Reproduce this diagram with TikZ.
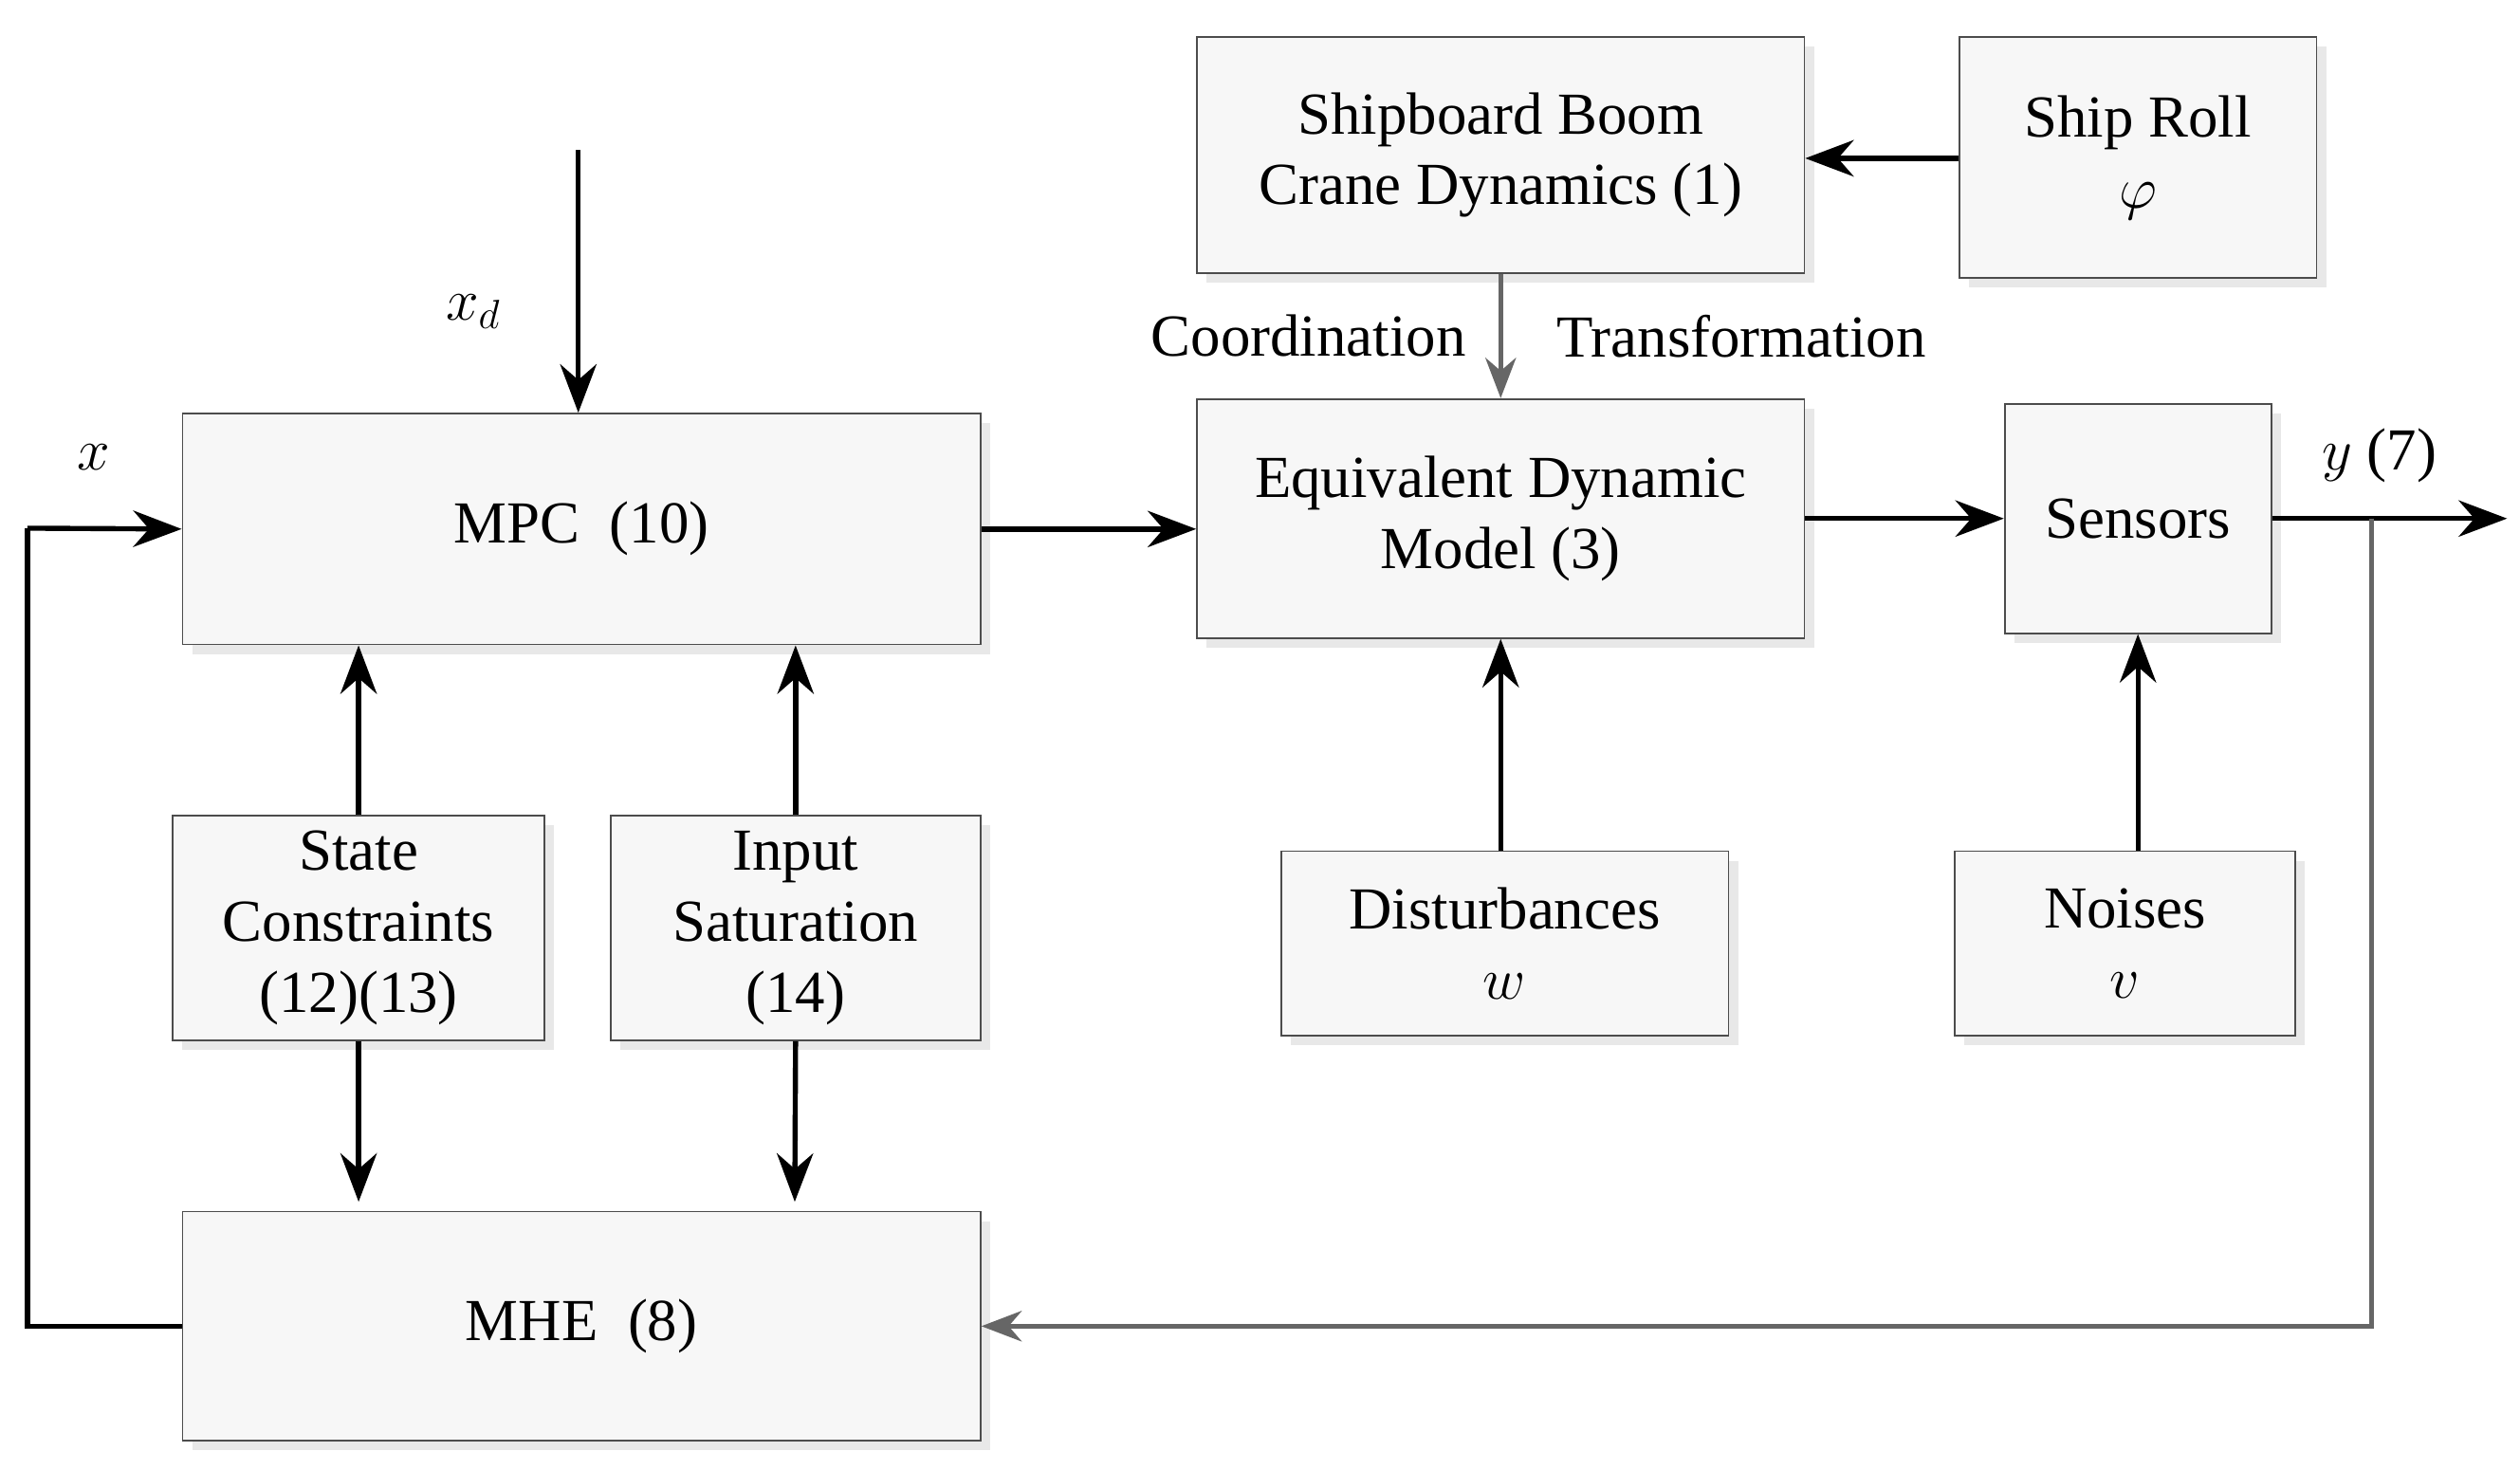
\documentclass[tikz,border=0pt]{standalone}
\usepackage{fontspec}
\setmainfont{Liberation Serif}
\usetikzlibrary{arrows.meta,shadows}
\begin{document}
\begin{tikzpicture}[x=0.02cm,y=-0.02cm,
 blk/.style={draw=black!70,line width=0.6pt,fill=gray!6,drop shadow={shadow xshift=0.12cm,shadow yshift=-0.12cm,fill=gray!35},align=center,font=\fontsize{21}{25}\selectfont,inner sep=0pt},
 ar/.style={line width=1.8pt,-{Stealth[length=0.6cm,width=0.45cm]}},
 gar/.style={draw=black!60,line width=1.5pt,-{Stealth[length=0.5cm,width=0.38cm]}},
 lbl/.style={font=\fontsize{21}{25}\selectfont}]
\useasboundingbox (0,0) rectangle (1560,910);
\newcommand{\bx}[6]{\node[blk,minimum width=#4*0.02cm,minimum height=#5*0.02cm] (#1) at (#2,#3) {#6};}
\bx{mpc}{360}{327.5}{494}{143}{MPC\ \ (10)}
\bx{sc}{222}{574.5}{230}{139}{State\\Constraints\\(12)(13)}
\bx{is}{492.5}{574.5}{229}{139}{Input\\Saturation\\(14)}
\bx{mhe}{360}{821}{494}{142}{MHE\ \ (8)}
\bx{sb}{929}{96}{376}{146}{Shipboard Boom\\Crane Dynamics (1)}
\bx{sr}{1323.5}{97.5}{221}{149}{Ship Roll\\$\varphi$}
\bx{eq}{929}{321}{376}{148}{Equivalent Dynamic\\Model (3)}
\bx{sen}{1323.5}{321}{165}{142}{Sensors}
\bx{dis}{931.5}{584}{277}{114}{Disturbances\\$w$}
\bx{noi}{1315.5}{584}{211}{114}{Noises\\$v$}
\coordinate (xdtop) at (358,93);
\coordinate (yend) at (1552,321);
\coordinate (tap) at (1468,321);
\coordinate (fl1) at (17,821);
\coordinate (fl2) at (17,327);
\coordinate (tapd) at (1468,821);
\draw[ar] (xdtop) -- (xdtop|-mpc.north);
\node[lbl] (xd) at (293,193) {$x_d$};
\node[lbl] (xl) at (58,283) {$x$};
\draw[line width=1.8pt] (mhe.west) -- (fl1) -- (fl2);
\draw[ar] (fl2) -- (mpc.west);
\draw[ar] (mpc.east) -- (eq.west|-mpc.east);
\draw[gar] (sb.south) -- (eq.north);
\node[lbl] (co) at (810,208) {Coordination};
\node[lbl] (tr) at (1078,208) {Transformation};
\draw[ar] (sr.west|-0,98) -- (sb.east|-0,98);
\draw[ar] (eq.east) -- (sen.west);
\draw[ar] (sen.east) -- (yend);
\node[lbl] (yl) at (1473,282) {$y$ (7)};
\draw[gar] (tap) -- (tapd) -- (mhe.east);
\draw[ar] (dis.north-|eq.south) -- (eq.south);
\draw[ar] (noi.north-|sen.south) -- (sen.south);
\draw[ar] (sc.north) -- (sc.north|-mpc.south);
\draw[ar] (sc.south) -- (222,744);
\draw[ar] (is.north) -- (is.north|-mpc.south);
\draw[ar] (is.south) -- (492,744);
\end{tikzpicture}
\end{document}
